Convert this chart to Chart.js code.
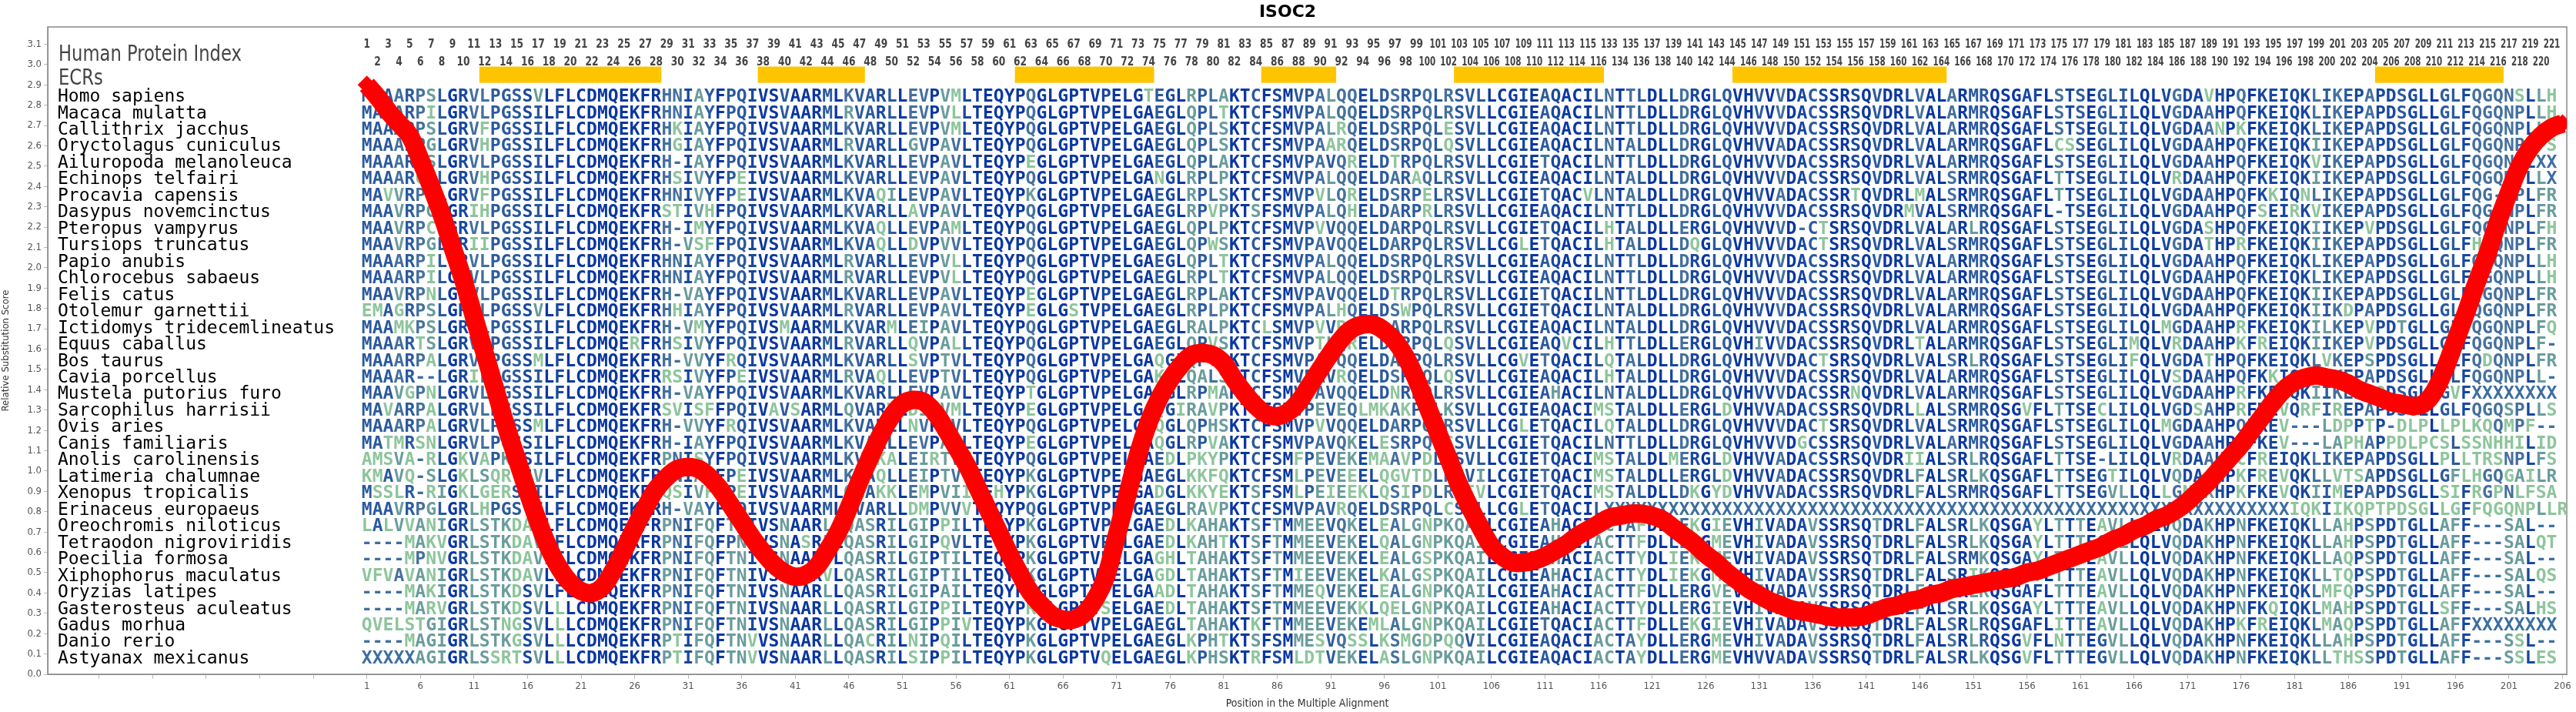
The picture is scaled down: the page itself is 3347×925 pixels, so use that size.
<!DOCTYPE html>
<html><head><meta charset="utf-8">
<script src="https://cdn.jsdelivr.net/npm/chart.js@4.4.1/dist/chart.umd.min.js"></script>
<style>html,body{margin:0;padding:0;background:#fff}#w{width:3347px;height:925px}</style>
</head><body><div id="w"><canvas id="c"></canvas></div>
<script>
const title = "ISOC2";
const species = ["Homo sapiens","Macaca mulatta","Callithrix jacchus","Oryctolagus cuniculus","Ailuropoda melanoleuca","Echinops telfairi","Procavia capensis","Dasypus novemcinctus","Pteropus vampyrus","Tursiops truncatus","Papio anubis","Chlorocebus sabaeus","Felis catus","Otolemur garnettii","Ictidomys tridecemlineatus","Equus caballus","Bos taurus","Cavia porcellus","Mustela putorius furo","Sarcophilus harrisii","Ovis aries","Canis familiaris","Anolis carolinensis","Latimeria chalumnae","Xenopus tropicalis","Erinaceus europaeus","Oreochromis niloticus","Tetraodon nigroviridis","Poecilia formosa","Xiphophorus maculatus","Oryzias latipes","Gasterosteus aculeatus","Gadus morhua","Danio rerio","Astyanax mexicanus"];
const seqA = ["MAAARPSLGRVLPGSSVLFLCDMQEKFRHNIAYFPQIVSVAARMLKVARLLEVPVMLTEQYPQGLGPTVPE","MAAARPILGRVLPGSSILFLCDMQEKFRHNIAYFPQIVSVAARMLRVARLLEVPVLLTEQYPQGLGPTVPE","MAAARPSLGRVFPGSSILFLCDMQEKFRHKIAYFPQIVSVAARMLKVARLLEVPVMLTEQYPQGLGPTVPE","MAAARPGLGRVHPGSSILFLCDMQEKFRHGIAYFPQIVSVAARMLRVARLLGVPAVLTEQYPQGLGPTVPE","MAAARPSLGRVLPGSSILFLCDMQEKFRH-IAYFPQIVSVAARMLKVARLLEVPAVLTEQYPEGLGPTVPE","MAAARGGLGRVHPGSSILFLCDMQEKFRHSIVYFPEIVSVAARMLKVARLLEVPAVLTEQYPQGLGPTVPE","MAVVRPSLGRVFPGSSILFLCDMQEKFRHNIVYFPEIVSVAARMLKVAQILEVPAVLTEQYPKGLGPTVPE","MAAVRPGLGRIHPGSSILFLCDMQEKFRSTIVHFPQIVSVAARMLKVARLLAVPAVLTEQYPQGLGPTVPE","MAAVRPCLGRVLPGSSILFLCDMQEKFRH-IMYFPQIVSVAARMLKVAQLLEVPAMLTEQYPQGLGPTVPE","MAAVRPGLGRIIPGSSILFLCDMQEKFRH-VSFFPQIVSVAARMLKVAQLLDVPVVLTEQYPQGLGPTVPE","MAAARPILGRVLPGSSILFLCDMQEKFRHNIAYFPQIVSVAARMLRVARLLEVPVLLTEQYPQGLGPTVPE","MAAARPILGRVLPGSSILFLCDMQEKFRHNIAYFPQIVSVAARMLRVARLLEVPVLLTEQYPQGLGPTVPE","MAAVRPNLGRVLPGSSILFLCDMQEKFRH-VAYFPQIVSVAARMLKVARLLEVPAVLTEQYPEGLGPTVPE","EMAGRPSLGRVLPGSSVLFLCDMQEKFRHHIAYFPQIVSVAARMLRVARLLEVPAVLTEQYPEGLGSTVPE","MAAMKPSLGRVLPGSSILFLCDMQEKFRH-VMYFPQIVSMAARMLKVARMLEIPAVLTEQYPQGLGPTVPE","MAAARTSLGRVLPGSSILFLCDMQERFRHSIVYFPQIVSVAARMLRVARLLQVPALLTEQYPQGLGPTVPE","MAAARPALGRVLPGSSMLFLCDMQEKFRH-VVYFRQIVSVAARMLKVARLLSVPTVLTEQYPQGLGPTVPE","MAAAR--LGRILPGSSILFLCDMQEKFRRSIVYFPEIVSVAARMLRVAQLLEVPTVLTEQYPQGLGPTVPE","MAAVGPNLGRVLPGSSILFLCDMQEKFRH-VAYFPQIVSVAARMLKVARLLEVPAVLTEQYPTGLGPTVPE","MAVARPALGRVLPGSSILFLCDMQEKFRSVISFFPQIVAVSARMLQVARVLDIPVMLTEQYPEGLGPTVPE","MAAARPALGRVLPGSSMLFLCDMQEKFRH-VVYFRQIVSVAARMLKVARLLNVPTVLTEQYPQGLGPTVPE","MATMRSNLGRVLPGSSILFLCDMQEKFRH-IAYFPQIVSVAARMLKVARLLEVPAVLTEQYPEGLGPTVPE","AMSVA-RLGKVAPKTSILFLCDMQEKFRPNISYFPQIVSVAARMLKVAKALEIRTVVTEQYPQGLGPTVPE","KMAVQ-SLGKLSQRTSVLFLCDMQEKFRPNIAFFPEIVSVAARMLKVAQLLEIPTVVTEQYPKGLGPTVPE","MSSLR-RIGKLGERSSILFLCDMQEKFRQSIVFFPEIVSVAARMLQGAKKLEMPVIITEHYPKGLGPTVPE","MAAVRPGLGRLHPGSTILFLCDMQEKFRH-VAYFPQIVSVAARMLKVARLLDMPVVVTEQYPQGLGPTVPE","LALVVANIGRLSTKDAVLFLCDMQEKFRPNIFQFTNIVSNAARLLQASRILGIPPILTEQYPKGLGPTVPE","----MAKVGRLSTKDAVLFLCDMQEKFRPNIFQFPNIVSNASRLLQASRILGIPQVLTEQYPKGLGPTVPE","----MPNVGRLSTKDAVLFLCDMQEKFRPNIFQFTNIVSNAARVLQASRILGIPTILTEQYPKGLGPTVPE","VFVAVANIGRLSTKDAVLFLCDMQEKFRPNIFQFTNIVSNAARVLQASRILGIPTILTEQYPKGLGPTVPE","----MAKIGRLSTKDSVLFLCDMQEKFRPNIFQFTNIVSNAARLLQASRILGIPAILTEQYPKGLGPTVPE","----MARVGRLSTKDSVLLLCDMQEKFRPNIFQFTNIVSNAARLLQASRILGIPPILTEQYPRGLGPTVSE","QVELSTGIGRLSTNGSVLLLCDMQEKFRPNIFQFTNIVSNAARLLQASRILGIPPIVTEQYPKGLGPTVPE","----MAGIGRLSTKGSVLLLCDMQEKFRPTIFQFTNVVSNAARLLQACRILNIPQILTEQYPKGLGPTVPE","XXXXXAGIGRLSSRTSVLLLCDMQEKFRPTIFQFTNVVSNAARLLQASRILSIPPILTEQYPKGLGPTVQE"];
const seqB = ["LGTEGLRPLAKTCFSMVPALQQELDSRPQLRSVLLCGIEAQACILNTTLDLLDRGLQVHVVVDACSSRSQ","LGAEGLQPLTKTCFSMVPALQQELDSRPQLRSVLLCGIEAQACILNTTLDLLDRGLQVHVVVDACSSRSQ","LGAEGLQPLSKTCFSMVPALRQELDSRPQLESVLLCGIEAQACILNTTLDLLDRGLQVHVVVDACSSRSQ","LGAEGLQPLSKTCFSMVPAARQELDSRPQLQSVLLCGIEAQACILNTALDLLDRGLQVHVVADACSSRSQ","LGAEGLQPLAKTCFSMVPAVQRELDTRPQLRSVLLCGIETQACILNTTLDLLDRGLQVHVVVDACSSRSQ","LGANGLRPLPKTCFSMVPALQQELDARAQLRSVLLCGIEAQACILNTALDLLDRGLQVHVVVDACSSRSQ","LGAEGLRPLSKTCFSMVPVLQRELDSRPELRSVLLCGIETQACVLNTALDLLDRGLQVHVVADACSSRTQ","LGAEGLRPVPKTSFSMVPALQHELDARPRLRSVLLCGIEAQACILNTTLDLLDRGLQVHVVVDACSSRSQ","LGAEGLQPLPKTCFSMVPVVQQELDARPQLRSVLLCGIETQACILHTALDLLERGLQVHVVVD-CTSRSQ","LGAEGLQPWSKTCFSMVPAVQQELDARPQLRSVLLCGLETQACILHTALDLLDQGLQVHVVVDACTSRSQ","LGAEGLQPLTKTCFSMVPALQQELDSRPQLRSVLLCGIEAQACILNTTLDLLDRGLQVHVVVDACSSRSQ","LGAEGLRPLTKTCFSMVPALQQELDSRPQLRSVLLCGIEAQACILNTTLDLLDRGLQVHVVVDACSSRSQ","LGAEGLRPLAKTCFSMVPAVQQELDTRPQLRSVLLCGIETQACILNTTLDLLDRGLQVHVVVDACSSRSQ","LGAEGLRPLPKTCFSMVPALHQELDSWPQLRSVLLCGIETQACILNTALDLLDRGLQVHVVVDACSSRSQ","LGAEGLRALPKTCLSMVPVVRQELDARPQLRSVLLCGIEAQACILNTALDLLDRGLQVHVVVDACSSRSQ","LGAEGLQPVSKTCFSMVPTLQRELDSRPQLQSVLLCGIEAQVCILHTTLDLLERGLQVHIVVDACSSRSQ","LGAQGLQPYSKTCFSMVPAVQQELDARPQLRSVLLCGVETQACILQTALDLLDRGLQVHVVVDACTSRSQ","LGAKGLQALSKTCFSMVPAVRQELDSRPQLQSVLLCGIEAQACILHTALDLLDRGLQVHVVVDACSSRSQ","LGAGGLRPMAKTCFSMVPAVQQELDNRPQLRSVLLCGIEAHACILNTALDLLDRGLQVHVVVDACSSRNQ","LGAQGIRAVPKTTFSMVPEVEQLMKAKPSLKSVLLCGIEAQACIMSTALDLLERGLDVHVVADACSSRSQ","LGAQGLQPHSKTCFSMVPVVQQELDARPQLRSVLLCGLETQACILQTALDLLDRGLQVHVVVDACTSRSQ","LGAQGLRPVAKTCFSMVPAVQKELESRPQLCSVLLCGIETQACILNTTLDLLDRGLQVHVVVDGCSSRSQ","LGAEDLPKYPKTCFSMFPEVEKEMAAVPDLKSVLLCGIETQACIMSTALDLMERGLDVHVVADACSSRSQ","LGAEGLKKFQKTCFSMLPEVEEELQGVTDLRSVILCGIETQACIMSTALDLLERGLDVHVVADACSSRSQ","LGADGLKKYEKTSFSMLPEIEEKLQSIPDLRSIVLCGIETQACIMSTALDLLDKGYDVHVVADACSSRSQ","LGAEGLRAVPKTCFSMVPAVRQELDSRPQLCSVLLCGLETQACILXXXXXXXXXXXXXXXXXXXXXXXXX","LGAEDLKAHAKTSFTMMEEVQKELEALGNPKQAILCGIEAHACIACTAFDLLEKGIEVHIVADAVSSRSQ","LGAEDLKAHTKTSFTMMEEVEKELQALGNPKQAILCGIEAHACIACTTFDLLERGMEVHIVADAVSSRSQ","LGAGHLTAHAKTSFTMMEEVEKELEALGSPKQAILCGIEAHACIACTTYDLIEKGMEVHIVADAVSSRSQ","LGAGDLTAHAKTSFTMIEEVEKELKALGSPKQAILCGIEAHACIACTTYDLIEKGMEVHIVADAVSSRSQ","LGAADLTAHAKTSFTMMEQVEKELEALGNPKQAILCGIEAHACIACTTFDLLERGVEVHIVADAVSSRSQ","LGAEDLTAHAKTSFTMMEEVEKKLQELGNPKQAILCGIEAHACIACTTYDLLERGIEVHIVADAVSSRSQ","LGAEGLTAHAKTKFTMMEEVEKEMLALGNPKQAILCGIETQACIACTTFDLLEKGIEVHIVADAVSSRSQ","LGAEGLKPHTKTSFSMMESVQSSLKSMGDPQQVILCGIEAQACIACTAYDLLERGMEVHIVADAVSSRSQ","LGAEGLKPHSKTRFSMLDTVEKELASLGNPKQAILCGIEAQACIACTAYDLLERGMEVHVVADAVSSRSQ"];
const seqC = ["VDRLVALARMRQSGAFLSTSEGLILQLVGDAVHPQFKEIQKLIKEPAPDSGLLGLFQGQNSLLH","VDRLVALARMRQSGAFLSTSEGLILQLVGDAAHPQFKEIQKLIKEPAPDSGLLGLFQGQNPLLH","VDRLVALARMRQSGAFLSTSEGLILQLVGDAANPKFKEIQKLIKEPAPDSGLLGLFQGQNPLLH","VDRLVALARMRQSGAFLCSSEGLILQLVGDAAHPQFKEIQKIIKEPAPDSGLLGLFQGQNPLFS","VDRLVALARMRQSGAFLSTSEGLILQLVGDAAHPQFKEIQKVIKEPAPDSGLLGLFQGQNPLXX","VDRLVALSRMRQSGAFLTTSEGLILQLVRDAAHPQFKEIQKIIKEPAPDSGLLGLFQGQNPLLX","VDRLMALSRMRQSGAFLTTSEGLILQLVGDAAHPQFKKIQNLIKEPAPDSGLLGLFQG-NPLFR","VDRMVALSRMRQSGAFL-TSEGLILQLVGDAAHPQFSEIRKVIKEPAPDSGLLGLFQGQNPLFR","VDRLVALARLRQSGAFLSTSEGLILQLVGDASHPQFKEIQKIIKEPVPDSGLLGLFQGQNPLFH","VDRLVALSRMRQSGAFLSTSEGLILQLVGDATHPRFKEIQKIIKEPAPDSGLLGLFHGQNPLFR","VDRLVALARMRQSGAFLSTSEGLILQLVGDAAHPQFKEIQKLIKEPAPDSGLLGLFQGQNPLLH","VDRLVALARMRQSGAFLSTSEGLILQLVGDAAHPQFKEIQKLIKEPAPDSGLLGLFQGQNPLLH","VDRLVALARMRQSGAFLSTSEGLILQLVGDAAHPQFKEIQKIIKEPAPDSGLLGLFQGQNPLFR","VDRLVALARMRQSGAFLSTSEGLILQLVGDAAHPQFKEIQKIIKDPAPDSGLLGLFQGQNPLFR","VDRLVALARMRQSGAFLSTSEGLILQLMGDAAHPRFKEIQKILKEPVPDTGLLGLFQGQNPLFQ","VDRLTALARMRQSGAFLSTSEGLIMQLVRDAAHPKFREIQKIIKEPVPDSGLLGLFQGQNPLF-","VDRLVALSRLRQSGAFLSTSEGLIFQLVGDATHPQFKEIQKLVKEPSPDSGLLGLFQDQNPLFR","VDRLVALARMRQSGAFLSTSEGLILQLVSDAAHPQFKKIQDIIKEPAPDSGLLGLFQGQNPLL-","VDRLVALARMRQSGAFLSTSEGLILQLVGDAAHPRFKEIQKIIKEPAQDSGLLGVFXXXXXXXX","VDRLLALSRMRQSGVFLTTSECLILQLVGDSAHPRFKEVQRFIREPAPDSGLLGLFQGQSPLLS","VDRLVALSRMRQSGAFLSTSEGLILQLMGDAAHPQFKEV---LDPPTP-DLPLLPLKQQMPF--","VDRLVALARMRQSGAFLSTSEGLILQLVGDAAHPQFKEV---LAPHAPPDLPCSLSSNHHILID","VDRIIALSRLRQSGAFLTTSE-LILQLVRDAAHPCFREIQKLIKEPAPDSGLLPLLTRSNPLFS","VDRLFALSRLKQSGAFLTTSEGTILQLVQDAAHPKFREVQKLLVTSAPDSGLLGFLHGQGAILR","VDRLFALSRMRQSGAFLTTSEGVLLQLLGNAKHPKFKEVQKIIMEPAPDSGLLSIFRGPNLFSA","XXXXXXXXXXXXXXXXXXXXXXXXXXXXXXXXXXXXXXXIQKIIKQPTPDSGLLGFFQGQNPLLR","TDRLFALSRLKQSGAYLTTTEAVLLQLVQDAKHPNFKEIQKLLAHPSPDTGLLAFF---SAL--","TDRLFALSRLKQSGAYLTTTEGVLLQLVQDAKHPNFKEIQKLLAHPSPDTGLLAFF---SALQT","TDRLFALSRMKQSGAYLTTTEAVLLQLVQDAKHPNFKEIQKLLAQPSPDTGLLAFF---SAL--","TDRLFALSRIKQSGAYLTTTEAVLLQLVQDAKHPNFKEIQKLLTQPSPDTGLLAFF---SALQS","TDRLFALSRLKQSGAFLTTTEAVLLQLVQDAKHPNFKEIQKLMFQPSPDTGLLAFF---SAL--","TDRLFALSRLKQSGAYLTTTEAVLLQLVQDAKHPNFKQIQKLMAHPSPDTGLLSFF---SALHS","TDRLFALSRLRQSGAFLITTEAVLLQLVQDAKHPKFREIQKLMAQPSPDTGLLAFFXXXXXXXX","TDRLFALSRLRQSGVFLNTTEGVLLQLVQDAKHPNFKEIQKLLAHPSPDTGLLAFF---SSL--","TDRLFALSRLKQSGVFLTTTEGVLLQLVQDAKHPNFKEIQKLLTHSSPDTGLLAFF---SSLES"];
const scores = [2.90,2.84,2.77,2.71,2.65,2.53,2.40,2.26,2.10,1.94,1.76,1.58,1.40,1.22,1.06,0.90,0.75,0.62,0.52,0.45,0.41,0.40,0.43,0.51,0.61,0.72,0.82,0.91,0.97,1.01,1.02,1.01,0.97,0.91,0.83,0.75,0.67,0.60,0.54,0.50,0.48,0.49,0.53,0.61,0.70,0.82,0.95,1.07,1.18,1.27,1.33,1.35,1.34,1.29,1.21,1.12,1.03,0.92,0.81,0.70,0.59,0.49,0.40,0.34,0.29,0.27,0.27,0.30,0.37,0.48,0.68,0.88,1.08,1.24,1.36,1.45,1.52,1.57,1.58,1.57,1.53,1.45,1.38,1.32,1.28,1.27,1.29,1.34,1.42,1.50,1.58,1.65,1.70,1.72,1.72,1.69,1.64,1.56,1.45,1.32,1.19,1.06,0.93,0.82,0.72,0.63,0.58,0.55,0.55,0.56,0.58,0.61,0.64,0.68,0.71,0.74,0.77,0.78,0.79,0.79,0.78,0.76,0.72,0.68,0.64,0.59,0.55,0.50,0.46,0.42,0.39,0.36,0.34,0.32,0.31,0.30,0.29,0.28,0.28,0.28,0.29,0.31,0.33,0.34,0.36,0.37,0.39,0.40,0.42,0.43,0.44,0.45,0.46,0.47,0.48,0.50,0.51,0.53,0.55,0.57,0.59,0.61,0.63,0.66,0.68,0.71,0.73,0.76,0.78,0.81,0.85,0.90,0.95,1.01,1.07,1.13,1.20,1.27,1.34,1.40,1.44,1.46,1.47,1.46,1.45,1.43,1.40,1.38,1.36,1.34,1.33,1.32,1.33,1.39,1.50,1.64,1.78,1.93,2.07,2.23,2.37,2.50,2.59,2.65,2.69,2.71];
const ecrStart = [12,38,62,85,103,145,205];
const ecrEnd   = [28,47,74,91,116,164,216];
const indexBreakPos = 116, indexJump = 16;
const yTicks = [0,0.1,0.2,0.3,0.4,0.5,0.6,0.7,0.8,0.9,1.0,1.1,1.2,1.3,1.4,1.5,1.6,1.7,1.8,1.9,2.0,2.1,2.2,2.3,2.4,2.5,2.6,2.7,2.8,2.9,3.0,3.1];

const COND = '"DejaVu Sans Condensed","Liberation Sans",sans-serif';
const seqs = species.map((s,i)=>seqA[i].padEnd(71,' ').slice(0,71)+seqB[i].padEnd(70,' ').slice(0,70)+seqC[i]);
const ncol = Math.max(...seqs.map(s=>s.length));
const colCount = [];
for (let c=0;c<ncol;c++){
  const cnt={}; seqs.forEach(s=>{const ch=s[c]||' '; cnt[ch]=(cnt[ch]||0)+1;});
  colCount.push(cnt);
}
function letterColor(c,ch){
  const f=(colCount[c][ch]||0)/seqs.length;
  if(ch==='-'||ch==='X') return f>0.5?'#1f4f9f':'#3d6fa0';
  if(f>=0.95) return '#0a37a0';
  if(f>=0.8) return '#1848a0';
  if(f>=0.6) return '#2b5a9e';
  if(f>=0.4) return '#44709e';
  if(f>=0.2) return '#6a9c9c';
  return '#8ec59c';
}
const idxLabel = p => p<=indexBreakPos ? p : p+indexJump;
const rowVal = k => 2.84 - 0.0813*k;
const toPos = idx => idx<=indexBreakPos ? idx : idx-indexJump;
function squeezed(ctx, txt, x, y, sx){
  ctx.save(); ctx.translate(x,y); ctx.scale(sx,1); ctx.fillText(txt,0,0); ctx.restore();
}

const bg = {
  id:'bg',
  beforeDatasetsDraw(ch){
    const {ctx, chartArea:a, scales:{x,y}} = ch;
    ctx.save();
    ctx.fillStyle='#000'; ctx.font='bold 22px "DejaVu Sans"'; ctx.textAlign='center'; ctx.textBaseline='middle';
    ctx.fillText(title, 1673, 16);
    ctx.strokeStyle='#888'; ctx.lineWidth=1.5; ctx.strokeRect(a.left,a.top,a.right-a.left,a.bottom-a.top);
    ctx.fillStyle='#444'; ctx.textAlign='left';
    ctx.font='28px '+COND;
    squeezed(ctx,'Human Protein Index', a.left+14, 72, 0.9);
    squeezed(ctx,'ECRs', a.left+14, 103, 0.9);
    ctx.font='bold 16px '+COND; ctx.textAlign='center';
    for(let p=1;p<=205;p++){
      const n=idxLabel(p);
      squeezed(ctx, String(n), x.getPixelForValue(p), n%2? 58:81, n>=100?0.72:0.85);
    }
    ctx.fillStyle='#ffc400';
    for(let i=0;i<ecrStart.length;i++){
      const x0=x.getPixelForValue(toPos(ecrStart[i])-0.5), x1=x.getPixelForValue(toPos(ecrEnd[i])+0.5);
      ctx.fillRect(x0, y.getPixelForValue(2.99), x1-x0, y.getPixelForValue(2.91)-y.getPixelForValue(2.99));
    }
    species.forEach((s,k)=>{
      const yy=y.getPixelForValue(rowVal(k));
      ctx.textAlign='left'; ctx.fillStyle='#000'; ctx.font='23px "DejaVu Sans Mono"';
      ctx.fillText(s, a.left+13, yy);
      ctx.font='bold 23px "DejaVu Sans Mono"'; ctx.textAlign='center';
      const sq=seqs[k];
      for(let c=0;c<sq.length;c++){
        const chh=sq[c]; if(chh===' ') continue;
        ctx.fillStyle=letterColor(c,chh);
        ctx.fillText(chh, x.getPixelForValue(c+1), yy);
      }
    });
    ctx.restore();
  }
};

new Chart(document.getElementById('c'),{
  type:'line',
  data:{datasets:[{data:scores.map((v,i)=>({x:i+1,y:v})),borderColor:'#ff0000',backgroundColor:'#ff0000',borderWidth:24,tension:0.4,pointStyle:'rectRot',pointRadius:12,pointBorderWidth:0,fill:false}]},
  options:{responsive:true,maintainAspectRatio:false,animation:false,
    layout:{padding:{top:35,right:9,left:0,bottom:0}},
    plugins:{legend:{display:false},tooltip:{enabled:false}},
    scales:{
      x:{type:'linear',min:-28.8,max:206.4,
        afterBuildTicks(s){const t=[];for(let v=-24;v<=206;v+=5)t.push({value:v});s.ticks=t;},
        afterFit(s){s.height=49;},
        ticks:{autoSkip:false,maxRotation:0,color:'#555',font:{family:'DejaVu Sans Condensed',size:13},padding:2,callback:v=>v>=1?String(v):''},
        grid:{drawOnChartArea:false,tickLength:6,color:'#bbb'},border:{color:'#888'},
        title:{display:true,text:'Position in the Multiple Alignment',color:'#333',font:{family:'DejaVu Sans Condensed',size:14},padding:{top:0,bottom:2}}},
      y:{min:0,max:3.185,
        afterBuildTicks(s){s.ticks=yTicks.map(v=>({value:v}));},
        afterFit(s){s.width=62;},
        ticks:{color:'#555',font:{family:'DejaVu Sans Condensed',size:13},padding:3,callback:v=>Number(v).toFixed(1)},
        grid:{drawOnChartArea:false,tickLength:5,color:'#bbb'},border:{color:'#888'},
        title:{display:true,text:'Relative Substitution Score',color:'#333',font:{family:'DejaVu Sans Condensed',size:13},padding:{top:0,bottom:2}}}
    }
  },
  plugins:[bg]
});
</script></body></html>
